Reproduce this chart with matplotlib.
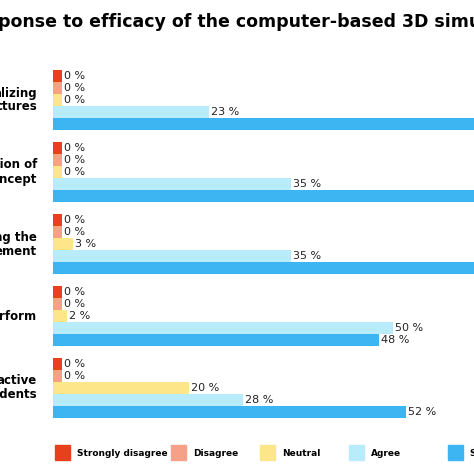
import matplotlib.pyplot as plt
from matplotlib.patches import Rectangle

# Datos (porcentajes por afirmación)
statements = ['alizing\nctures', 'tion of\noncept', 'ng the\nement', 'erform', 'active\nudents']
levels = ['Strongly disagree', 'Disagree', 'Neutral', 'Agree', 'Strongly agree']
strongly_disagree = [0, 0, 0, 0, 0]
disagree = [0, 0, 0, 0, 0]
neutral = [0, 0, 3, 2, 20]
agree = [23, 35, 35, 50, 28]
strongly_agree = [77, 65, 62, 48, 52]
colors = ['#e8401c', '#f7a088', '#fde58a', '#b8ecfa', '#3db5f2']

series = [strongly_disagree, disagree, neutral, agree, strongly_agree]
XMAX = 62

W = 474
fig = plt.figure(figsize=(W / 100, W / 100), dpi=100)
ax = fig.add_axes([53 / W, 1 - 418 / W, 1 - 53 / W, 348 / W])

for j, vals in enumerate(series):
    ys = [i * 6 + j for i in range(len(statements))]
    ax.barh(ys, vals, height=1.0, color=colors[j])
    for y, v in zip(ys, vals):
        if v == 0:
            # Pequeño tramo visible para los valores 0
            ax.barh(y, 1.3, height=1.0, color=colors[j])
        if v < XMAX - 5:
            ax.text(max(v, 1.3) + 0.3, y, f'{v} %', va='center', ha='left',
                    fontsize=8, color='#222222')

ax.set_xlim(0, XMAX)
ax.set_ylim(28.5, -0.5)
ax.axis('off')

for i, s in enumerate(statements):
    fig.text(37 / W, 1 - (70 + 12 * (i * 6 + 2.5)) / W, s, ha='right', va='center',
             fontsize=8.5, fontweight='bold', linespacing=1.1)

fig.text(-2 / W, 1 - 22 / W, 'ponse to efficacy of the computer-based 3D simu',
         ha='left', va='center', fontsize=12.5, fontweight='bold')

# Leyenda manual
leg_x = [55, 171, 260, 349, 448]
for x, lab, c in zip(leg_x, levels, colors):
    fig.patches.append(Rectangle((x / W, 1 - 460 / W), 15 / W, 15 / W, color=c,
                                 transform=fig.transFigure))
    fig.text((x + 22) / W, 1 - 453 / W, lab, ha='left', va='center', fontsize=6.5,
             fontweight='bold')

fig.savefig('out.png', dpi=100)
